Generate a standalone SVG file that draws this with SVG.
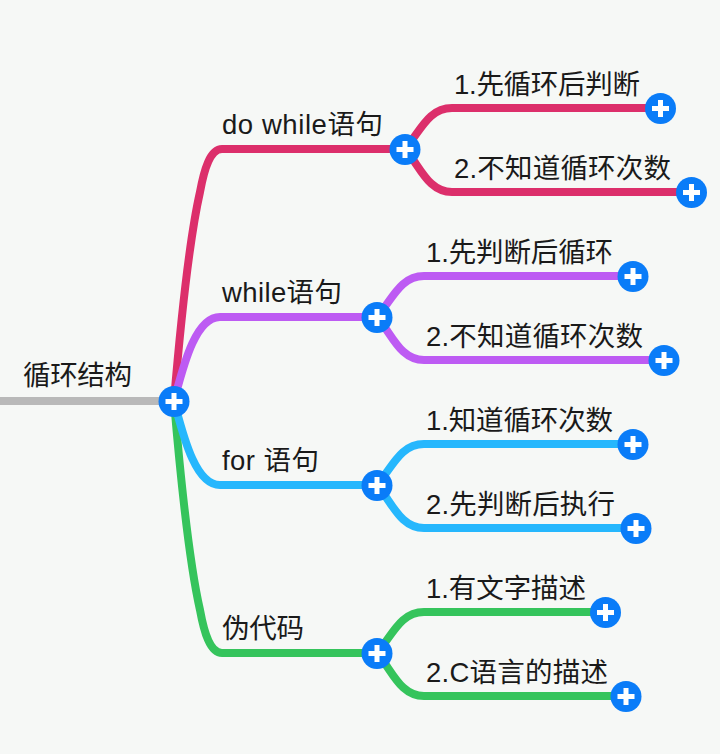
<svg xmlns="http://www.w3.org/2000/svg" width="720" height="754" viewBox="0 0 720 754">
<style>
.c{fill:none;stroke-width:8;stroke-linecap:butt}
.r{stroke:#dc2f6b}.p{stroke:#bd5bf3}.b{stroke:#26b7fd}.g{stroke:#35c45c}
.t{font-family:"Liberation Sans","Noto Sans CJK SC",sans-serif;font-size:27.5px;fill:#1a1a1a}
.k{fill:#0a7cf8}
.w{fill:none;stroke:#fff;stroke-width:5;stroke-linecap:butt}
</style>
<defs>
<g id="plus"><circle class="k" r="15.500"/><path class="w" d="M-8.500 0H8.500M0-8.500V8.500"/></g>
</defs>
<rect width="720" height="754" fill="#f6f8f6"/>
<g id="connectors">
<path class="c" stroke="#b9b9b9" d="M0 401H174"/>
<path class="c r" d="M174 401C180 330 188 245 200 192C204 170 210 149 222 149H405"/>
<path class="c p" d="M174 401C182 372 194 317 220 317H377"/>
<path class="c g" d="M174 401C180 472 188 557 200 610C204 632 210 653 222 653H377"/>
<path class="c b" d="M174 401C182 430 194 485 220 485H377"/>
<path class="c r" d="M405 149C420 132 428 108 452 108H660"/>
<path class="c r" d="M405 149C420 166 428 192 452 192H691"/>
<path class="c p" d="M377 317C392 300 400 276 424 276H633"/>
<path class="c p" d="M377 317C392 334 400 360 424 360H664"/>
<path class="c b" d="M377 485C392 468 400 444 424 444H633"/>
<path class="c b" d="M377 485C392 502 400 528 424 528H636"/>
<path class="c g" d="M377 653C392 636 400 612 424 612H605"/>
<path class="c g" d="M377 653C392 670 400 696 424 696H626"/>
</g>
<g id="root"><text class="t" x="23" y="385" textLength="109">循环结构</text><use href="#plus" x="174" y="401.500"/></g>
<g id="n1"><text class="t" x="222" y="134" textLength="161">do while语句</text><use href="#plus" x="405" y="149.500"/></g>
<g id="n2"><text class="t" x="222" y="302" textLength="120">while语句</text><use href="#plus" x="377" y="317.500"/></g>
<g id="n3"><text class="t" x="222" y="470" textLength="97">for 语句</text><use href="#plus" x="377" y="485.500"/></g>
<g id="n4"><text class="t" x="222" y="638" textLength="82">伪代码</text><use href="#plus" x="377" y="653.500"/></g>
<g id="n1a"><text class="t" x="454" y="94" textLength="186">1.先循环后判断</text><use href="#plus" x="660.500" y="108.500"/></g>
<g id="n1b"><text class="t" x="454" y="178" textLength="217">2.不知道循环次数</text><use href="#plus" x="691.500" y="192.500"/></g>
<g id="n2a"><text class="t" x="426" y="262" textLength="187">1.先判断后循环</text><use href="#plus" x="633" y="276.500"/></g>
<g id="n2b"><text class="t" x="426" y="346" textLength="217">2.不知道循环次数</text><use href="#plus" x="664" y="360.500"/></g>
<g id="n3a"><text class="t" x="426" y="430" textLength="187">1.知道循环次数</text><use href="#plus" x="633" y="444.500"/></g>
<g id="n3b"><text class="t" x="426" y="514" textLength="189">2.先判断后执行</text><use href="#plus" x="636" y="528.500"/></g>
<g id="n4a"><text class="t" x="426" y="598" textLength="160">1.有文字描述</text><use href="#plus" x="605.500" y="612.500"/></g>
<g id="n4b"><text class="t" x="426" y="682" textLength="182">2.C语言的描述</text><use href="#plus" x="626" y="696.500"/></g>
</svg>
